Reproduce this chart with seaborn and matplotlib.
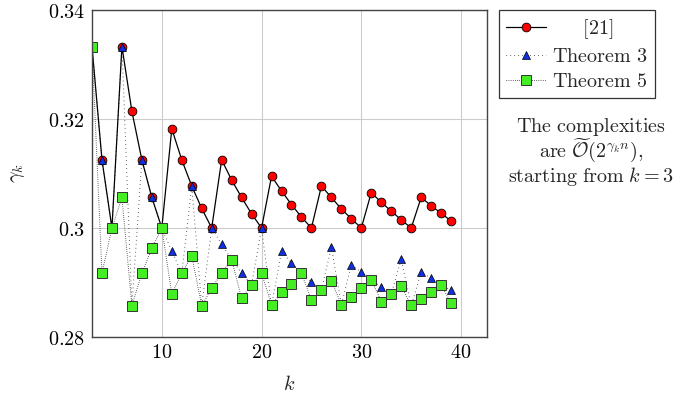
import numpy as np
import pandas as pd
import matplotlib
matplotlib.use("Agg")
import matplotlib.pyplot as plt
import seaborn as sns

k = list(range(3, 40))

ref21 = [0.3333, 0.3125, 0.3000, 0.3333, 0.3214, 0.3125, 0.3056, 0.3000,
         0.3182, 0.3125, 0.3077, 0.3036, 0.3000, 0.3125, 0.3088, 0.3056,
         0.3026, 0.3000, 0.3095, 0.3068, 0.3043, 0.3020, 0.3000, 0.3077,
         0.3056, 0.3035, 0.3017, 0.3000, 0.3065, 0.3047, 0.3031, 0.3015,
         0.3000, 0.3056, 0.3041, 0.3027, 0.3013]

thm3 = [0.3333, 0.3125, 0.3000, 0.3333, 0.2857, 0.3125, 0.3056, 0.3000,
        0.2957, 0.2917, 0.3077, 0.2857, 0.3000, 0.2970, 0.2942, 0.2918,
        0.2896, 0.3000, 0.2857, 0.2957, 0.2936, 0.2917, 0.2901, 0.2886,
        0.2965, 0.2859, 0.2932, 0.2919, 0.2905, 0.2892, 0.2879, 0.2943,
        0.2857, 0.2919, 0.2908, 0.2895, 0.2886]

thm5 = [0.3333, 0.2917, 0.3000, 0.3056, 0.2857, 0.2917, 0.2963, 0.3000,
        0.2879, 0.2917, 0.2949, 0.2857, 0.2890, 0.2917, 0.2942, 0.2871,
        0.2896, 0.2917, 0.2859, 0.2882, 0.2898, 0.2917, 0.2867, 0.2886,
        0.2903, 0.2859, 0.2874, 0.2890, 0.2905, 0.2865, 0.2879, 0.2894,
        0.2858, 0.2870, 0.2883, 0.2895, 0.2863]

labels = [r"$\quad\;\;\,[21]$", r"$\mathrm{Theorem\ 3}$", r"$\mathrm{Theorem\ 5}$"]
xticks = [10, 20, 30, 40]
xtick_labels = [r"$10$", r"$20$", r"$30$", r"$40$"]
yticks = [0.28, 0.30, 0.32, 0.34]
ytick_labels = [r"$0.28$", r"$0.3$", r"$0.32$", r"$0.34$"]

sns.set_theme(style="whitegrid")
plt.rcParams["mathtext.fontset"] = "cm"
plt.rcParams["font.family"] = ["DejaVu Serif"]

FS = 14.5

fig = plt.figure(figsize=(6.85, 3.97), dpi=100)
ax = fig.add_axes([92/685, 1-337/397, (487-92)/685, (337-10)/397])

df = pd.DataFrame({"k": k, "ref21": ref21, "thm3": thm3, "thm5": thm5})

sns.lineplot(data=df, x="k", y="ref21", ax=ax, color="black", lw=0.9,
             marker="o", markersize=6.3, markerfacecolor="#ff0000",
             markeredgecolor="black", markeredgewidth=0.6, label=labels[0])
sns.lineplot(data=df, x="k", y="thm3", ax=ax, color="black", lw=0.7,
             linestyle=(0, (0.6, 3.5)),
             marker="^", markersize=6.0, markerfacecolor="#1030e0",
             markeredgecolor="black", markeredgewidth=0.5, label=labels[1])
sns.lineplot(data=df, x="k", y="thm5", ax=ax, color="black", lw=0.7,
             linestyle=(0, (0.6, 1.6)),
             marker="s", markersize=6.8, markerfacecolor="#44ee22",
             markeredgecolor="#333333", markeredgewidth=0.7, label=labels[2])

ax.set_xlim(3, 42.6)
ax.set_ylim(0.28, 0.34)
ax.set_xticks(xticks)
ax.set_xticklabels(xtick_labels, fontsize=FS)
ax.set_yticks(yticks)
ax.set_yticklabels(ytick_labels, fontsize=FS)
ax.grid(True, color="#cccccc", lw=0.8)
for s in ax.spines.values():
    s.set_color("#444444")
    s.set_linewidth(1.0)
ax.tick_params(axis="x", length=0, pad=4, colors="black")
ax.tick_params(axis="y", length=0, pad=5, colors="black")
ax.set_xlabel(r"$k$", fontsize=FS, labelpad=10)
ax.set_ylabel(r"$\gamma_k$", fontsize=FS, labelpad=15)

leg = ax.legend(loc="upper left", bbox_to_anchor=(1.03, 1.0), borderaxespad=0,
                fancybox=False, framealpha=1, edgecolor="#333333",
                fontsize=FS, handlelength=2.0, handletextpad=0.3,
                labelspacing=0.3, borderpad=0.35)
leg.get_frame().set_linewidth(0.9)

cx = 591/685
fig.text(cx, 1-132/397, r"$\mathrm{The\ complexities}$", ha="center", va="baseline", fontsize=FS)
fig.text(cx, 1-157/397, r"$\mathrm{are}\ \widetilde{\mathcal{O}}(2^{\gamma_k n}),$", ha="center", va="baseline", fontsize=FS)
fig.text(cx, 1-182/397, r"$\mathrm{starting\ from}\ k=3$", ha="center", va="baseline", fontsize=FS)

fig.savefig("out.png", dpi=100)
